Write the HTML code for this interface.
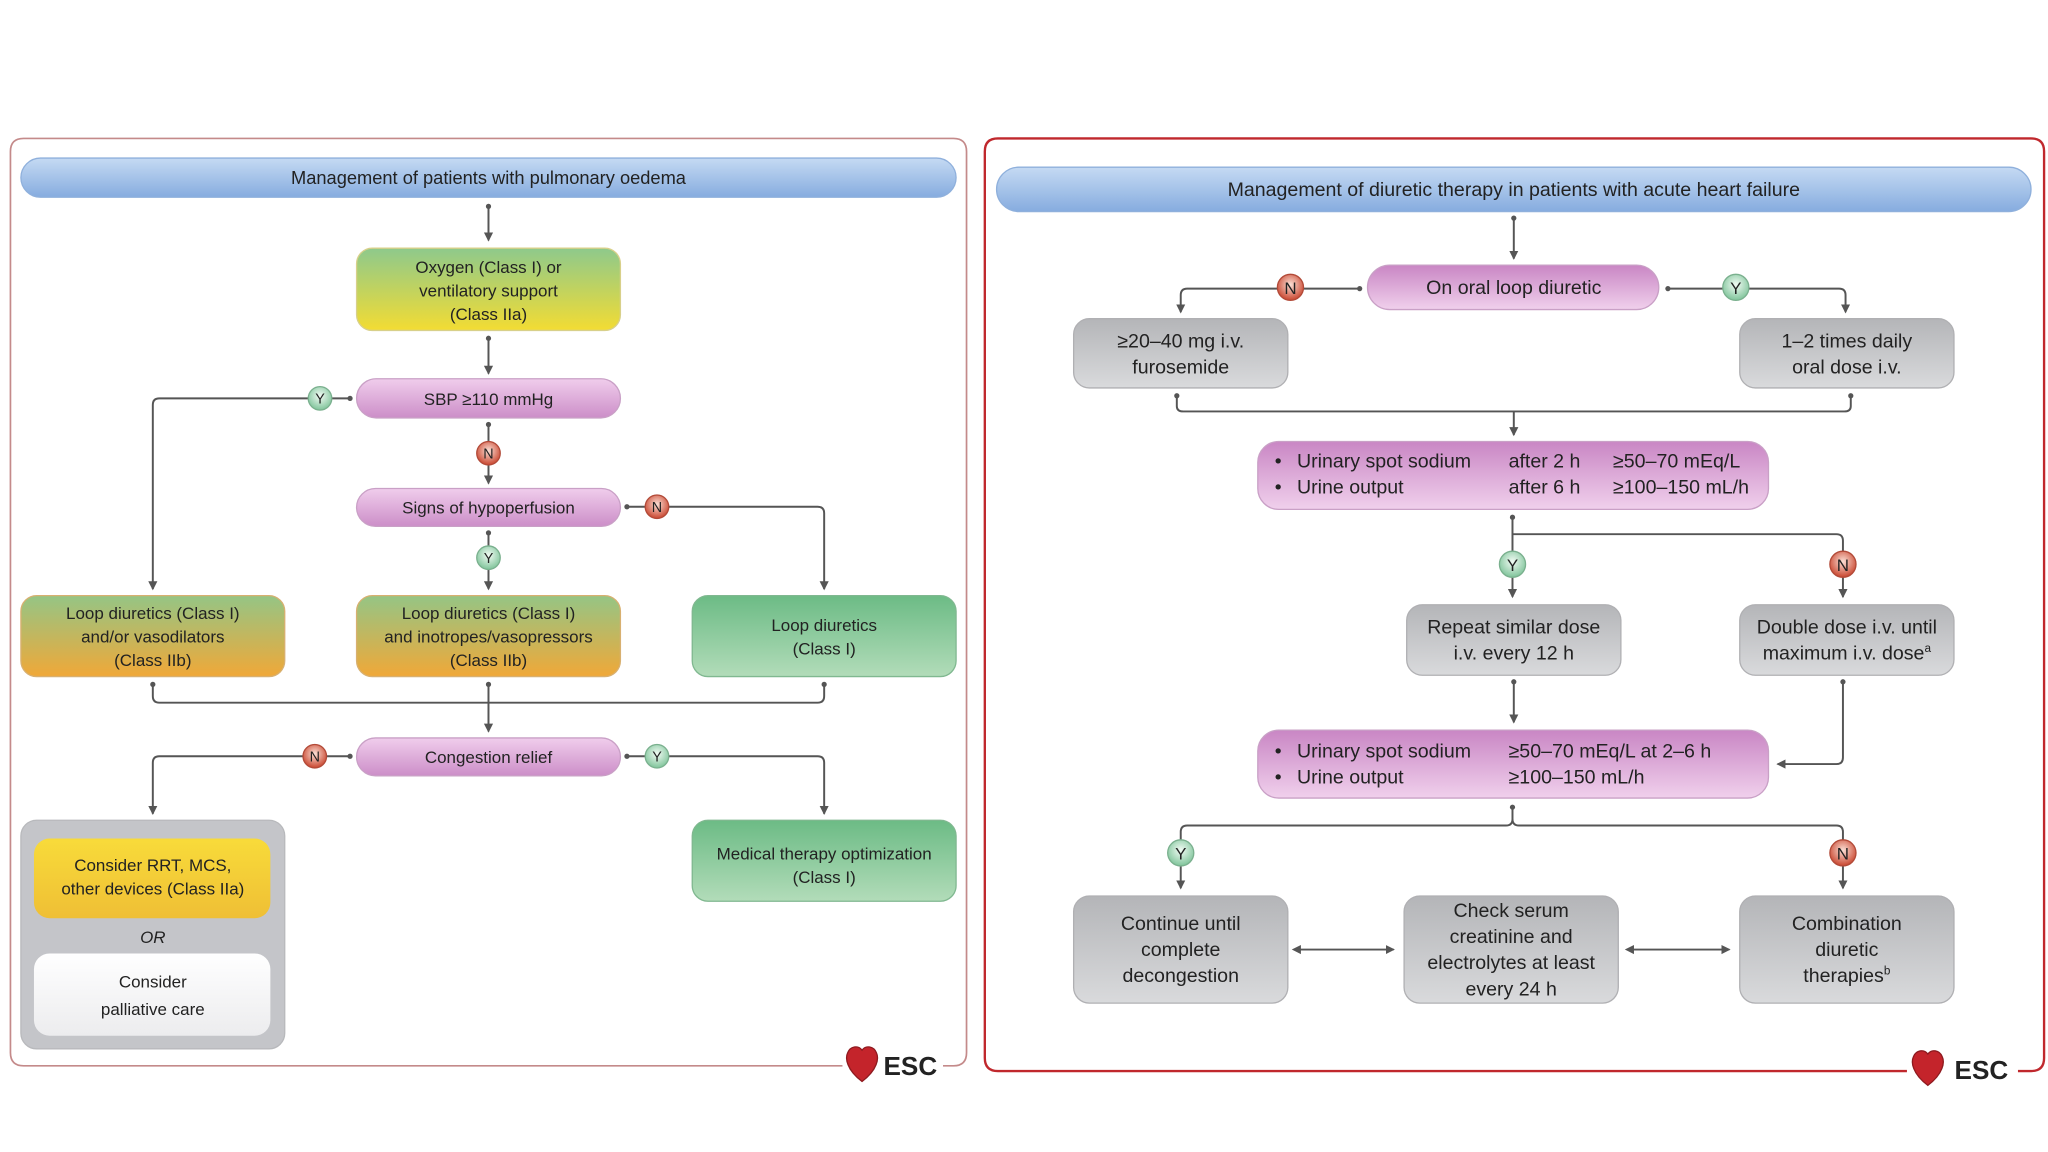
<!DOCTYPE html>
<html><head><meta charset="utf-8"><style>
html,body{margin:0;padding:0;background:#fff;width:2048px;height:1152px;overflow:hidden}
text{font-family:"Liberation Sans",sans-serif;fill:#222;text-anchor:middle}
</style></head><body>
<svg width="2048" height="1152" viewBox="0 0 1568 882" xmlns="http://www.w3.org/2000/svg">
<defs>
<linearGradient id="blue" x1="0" y1="0" x2="0" y2="1"><stop offset="0" stop-color="#c5daf3"/><stop offset="1" stop-color="#86acdf"/></linearGradient>
<linearGradient id="gy" x1="0" y1="0" x2="0" y2="1"><stop offset="0" stop-color="#8ec98c"/><stop offset="1" stop-color="#f3dc33"/></linearGradient>
<linearGradient id="go" x1="0" y1="0" x2="0" y2="1"><stop offset="0" stop-color="#95c585"/><stop offset="1" stop-color="#f0a838"/></linearGradient>
<linearGradient id="gr" x1="0" y1="0" x2="0" y2="1"><stop offset="0" stop-color="#6cbb85"/><stop offset="1" stop-color="#b2dcb9"/></linearGradient>
<linearGradient id="pu" x1="0" y1="0" x2="0" y2="1"><stop offset="0" stop-color="#c986c4"/><stop offset="1" stop-color="#f0d0ec"/></linearGradient>
<linearGradient id="pu2" x1="0" y1="0" x2="0" y2="1"><stop offset="0" stop-color="#f0cdec"/><stop offset="1" stop-color="#cc8ec8"/></linearGradient>
<linearGradient id="gray" x1="0" y1="0" x2="0" y2="1"><stop offset="0" stop-color="#b4b5b8"/><stop offset="1" stop-color="#d9dadc"/></linearGradient>
<linearGradient id="yel" x1="0" y1="0" x2="0" y2="1"><stop offset="0" stop-color="#f8db3a"/><stop offset="1" stop-color="#efbf35"/></linearGradient>
<linearGradient id="wh" x1="0" y1="0" x2="0" y2="1"><stop offset="0" stop-color="#ffffff"/><stop offset="1" stop-color="#ececee"/></linearGradient>
<radialGradient id="cy" cx="0.5" cy="0.4" r="0.6"><stop offset="0" stop-color="#f2fbf4"/><stop offset="1" stop-color="#7fc49a"/></radialGradient>
<radialGradient id="cn" cx="0.5" cy="0.4" r="0.6"><stop offset="0" stop-color="#fbe0d6"/><stop offset="1" stop-color="#c9452e"/></radialGradient>
<marker id="ah" markerWidth="8" markerHeight="8" refX="6" refY="4" orient="auto" markerUnits="userSpaceOnUse"><path d="M0,0.5 L7,4 L0,7.5 Z" fill="#555"/></marker>
<marker id="as" markerWidth="8" markerHeight="8" refX="1" refY="4" orient="auto-start-reverse" markerUnits="userSpaceOnUse"><path d="M0,0.5 L7,4 L0,7.5 Z" fill="#555"/></marker>
</defs>

<!-- panels -->
<path d="M645,816 H18 Q8,816 8,806 V116 Q8,106 18,106 H730 Q740,106 740,116 V806 Q740,816 730,816 H722" fill="none" stroke="#c48a8a" stroke-width="1.3"/>
<path d="M1460,820 H764 Q754,820 754,810 V116 Q754,106 764,106 H1555 Q1565,106 1565,116 V810 Q1565,820 1555,820 H1545" fill="none" stroke="#c0282d" stroke-width="1.8"/>

<g stroke="#555" stroke-width="1.5" fill="none">
<!-- left connectors -->
<path d="M374,158 V184" marker-end="url(#ah)"/>
<path d="M374,259 V286" marker-end="url(#ah)"/>
<path d="M268,305 H122 Q117,305 117,310 V451" marker-end="url(#ah)"/>
<path d="M374,325 V370" marker-end="url(#ah)"/>
<path d="M480,388 H626 Q631,388 631,393 V451" marker-end="url(#ah)"/>
<path d="M374,408 V451" marker-end="url(#ah)"/>
<path d="M117,524 V533 Q117,538 122,538 H626 Q631,538 631,533 V524"/>
<path d="M374,524 V560" marker-end="url(#ah)"/>
<path d="M268,579 H122 Q117,579 117,584 V623" marker-end="url(#ah)"/>
<path d="M480,579 H626 Q631,579 631,584 V623" marker-end="url(#ah)"/>
<!-- right connectors -->
<path d="M1159,167 V198" marker-end="url(#ah)"/>
<path d="M1041,221 H909 Q904,221 904,226 V239" marker-end="url(#ah)"/>
<path d="M1277,221 H1408 Q1413,221 1413,226 V239" marker-end="url(#ah)"/>
<path d="M901,303 V311 Q901,315 906,315 H1412 Q1417,315 1417,311 V303"/>
<path d="M1159,315 V333" marker-end="url(#ah)"/>
<path d="M1158,396 V457" marker-end="url(#ah)"/>
<path d="M1158,409 H1406 Q1411,409 1411,414 V457" marker-end="url(#ah)"/>
<path d="M1159,522 V553" marker-end="url(#ah)"/>
<path d="M1411,522 V580 Q1411,585 1406,585 H1361" marker-end="url(#ah)"/>
<path d="M1158,618 V627 Q1158,632 1153,632 H909 Q904,632 904,637 V680" marker-end="url(#ah)"/>
<path d="M1158,627 Q1158,632 1163,632 H1406 Q1411,632 1411,637 V680" marker-end="url(#ah)"/>
<path d="M995,727 H1067" marker-start="url(#as)" marker-end="url(#ah)"/>
<path d="M1250,727 H1324" marker-start="url(#as)" marker-end="url(#ah)"/>
</g>
<g fill="#555">
<circle cx="374" cy="158" r="2"/><circle cx="374" cy="259" r="2"/><circle cx="268" cy="305" r="2"/><circle cx="374" cy="325" r="2"/><circle cx="480" cy="388" r="2"/><circle cx="374" cy="408" r="2"/><circle cx="117" cy="524" r="2"/><circle cx="374" cy="524" r="2"/><circle cx="631" cy="524" r="2"/><circle cx="268" cy="579" r="2"/><circle cx="480" cy="579" r="2"/>
<circle cx="1159" cy="167" r="2"/><circle cx="1041" cy="221" r="2"/><circle cx="1277" cy="221" r="2"/><circle cx="901" cy="303" r="2"/><circle cx="1417" cy="303" r="2"/><circle cx="1158" cy="396" r="2"/><circle cx="1159" cy="522" r="2"/><circle cx="1411" cy="522" r="2"/><circle cx="1158" cy="618" r="2"/>
</g>

<!-- left boxes -->
<rect x="16" y="121" width="716" height="30" rx="15" fill="url(#blue)" stroke="#8fb0dc"/>
<text x="374" y="141" font-size="14">Management of patients with pulmonary oedema</text>
<rect x="273" y="190" width="202" height="63" rx="12" fill="url(#gy)" stroke="#d8d08a"/>
<text x="374" y="209" font-size="13">Oxygen (Class I) or</text>
<text x="374" y="227" font-size="13">ventilatory support</text>
<text x="374" y="245" font-size="13">(Class IIa)</text>
<rect x="273" y="290" width="202" height="30" rx="15" fill="url(#pu2)" stroke="#c9a0c6"/>
<text x="374" y="310" font-size="13">SBP ≥110 mmHg</text>
<rect x="273" y="374" width="202" height="29" rx="14.5" fill="url(#pu2)" stroke="#c9a0c6"/>
<text x="374" y="393" font-size="13">Signs of hypoperfusion</text>
<rect x="16" y="456" width="202" height="62" rx="12" fill="url(#go)" stroke="#d8b070"/>
<text x="117" y="474" font-size="13">Loop diuretics (Class I)</text>
<text x="117" y="492" font-size="13">and/or vasodilators</text>
<text x="117" y="510" font-size="13">(Class IIb)</text>
<rect x="273" y="456" width="202" height="62" rx="12" fill="url(#go)" stroke="#d8b070"/>
<text x="374" y="474" font-size="13">Loop diuretics (Class I)</text>
<text x="374" y="492" font-size="13">and inotropes/vasopressors</text>
<text x="374" y="510" font-size="13">(Class IIb)</text>
<rect x="530" y="456" width="202" height="62" rx="12" fill="url(#gr)" stroke="#80b890"/>
<text x="631" y="483" font-size="13">Loop diuretics</text>
<text x="631" y="501" font-size="13">(Class I)</text>
<rect x="273" y="565" width="202" height="29" rx="14.5" fill="url(#pu2)" stroke="#c9a0c6"/>
<text x="374" y="584" font-size="13">Congestion relief</text>
<rect x="16" y="628" width="202" height="175" rx="12" fill="#c4c5c9" stroke="#b8b9bc"/>
<rect x="26" y="642" width="181" height="61" rx="12" fill="url(#yel)"/>
<text x="117" y="667" font-size="13">Consider RRT, MCS,</text>
<text x="117" y="685" font-size="13">other devices (Class IIa)</text>
<text x="117" y="722" font-size="13" font-style="italic">OR</text>
<rect x="26" y="730" width="181" height="63" rx="12" fill="url(#wh)"/>
<text x="117" y="756" font-size="13">Consider</text>
<text x="117" y="777" font-size="13">palliative care</text>
<rect x="530" y="628" width="202" height="62" rx="12" fill="url(#gr)" stroke="#80b890"/>
<text x="631" y="658" font-size="13">Medical therapy optimization</text>
<text x="631" y="676" font-size="13">(Class I)</text>

<!-- right boxes -->
<rect x="763" y="128" width="792" height="34" rx="17" fill="url(#blue)" stroke="#8fb0dc"/>
<text x="1159" y="150" font-size="15">Management of diuretic therapy in patients with acute heart failure</text>
<rect x="1047" y="203" width="223" height="34" rx="17" fill="url(#pu)" stroke="#c9a0c6"/>
<text x="1159" y="225" font-size="15">On oral loop diuretic</text>
<rect x="822" y="244" width="164" height="53" rx="12" fill="url(#gray)" stroke="#b0b0b3"/>
<text x="904" y="266" font-size="15">≥20–40 mg i.v.</text>
<text x="904" y="286" font-size="15">furosemide</text>
<rect x="1332" y="244" width="164" height="53" rx="12" fill="url(#gray)" stroke="#b0b0b3"/>
<text x="1414" y="266" font-size="15">1–2 times daily</text>
<text x="1414" y="286" font-size="15">oral dose i.v.</text>
<rect x="963" y="338" width="391" height="52" rx="16" fill="url(#pu)" stroke="#c9a0c6"/>
<g font-size="15" style="text-anchor:start">
<text x="976" y="358" style="text-anchor:start">•</text><text x="993" y="358" style="text-anchor:start">Urinary spot sodium</text><text x="1155" y="358" style="text-anchor:start">after 2 h</text><text x="1235" y="358" style="text-anchor:start">≥50–70 mEq/L</text>
<text x="976" y="378" style="text-anchor:start">•</text><text x="993" y="378" style="text-anchor:start">Urine output</text><text x="1155" y="378" style="text-anchor:start">after 6 h</text><text x="1235" y="378" style="text-anchor:start">≥100–150 mL/h</text>
</g>
<rect x="1077" y="463" width="164" height="54" rx="12" fill="url(#gray)" stroke="#b0b0b3"/>
<text x="1159" y="485" font-size="15">Repeat similar dose</text>
<text x="1159" y="505" font-size="15">i.v. every 12 h</text>
<rect x="1332" y="463" width="164" height="54" rx="12" fill="url(#gray)" stroke="#b0b0b3"/>
<text x="1414" y="485" font-size="15">Double dose i.v. until</text>
<text x="1414" y="505" font-size="15">maximum i.v. dose<tspan font-size="9" dy="-6">a</tspan></text>
<rect x="963" y="559" width="391" height="52" rx="16" fill="url(#pu)" stroke="#c9a0c6"/>
<text x="976" y="580" font-size="15" style="text-anchor:start">•</text><text x="993" y="580" font-size="15" style="text-anchor:start">Urinary spot sodium</text><text x="1155" y="580" font-size="15" style="text-anchor:start">≥50–70 mEq/L at 2–6 h</text>
<text x="976" y="600" font-size="15" style="text-anchor:start">•</text><text x="993" y="600" font-size="15" style="text-anchor:start">Urine output</text><text x="1155" y="600" font-size="15" style="text-anchor:start">≥100–150 mL/h</text>
<rect x="822" y="686" width="164" height="82" rx="12" fill="url(#gray)" stroke="#b0b0b3"/>
<text x="904" y="712" font-size="15">Continue until</text>
<text x="904" y="732" font-size="15">complete</text>
<text x="904" y="752" font-size="15">decongestion</text>
<rect x="1075" y="686" width="164" height="82" rx="12" fill="url(#gray)" stroke="#b0b0b3"/>
<text x="1157" y="702" font-size="15">Check serum</text>
<text x="1157" y="722" font-size="15">creatinine and</text>
<text x="1157" y="742" font-size="15">electrolytes at least</text>
<text x="1157" y="762" font-size="15">every 24 h</text>
<rect x="1332" y="686" width="164" height="82" rx="12" fill="url(#gray)" stroke="#b0b0b3"/>
<text x="1414" y="712" font-size="15">Combination</text>
<text x="1414" y="732" font-size="15">diuretic</text>
<text x="1414" y="752" font-size="15">therapies<tspan font-size="9" dy="-6">b</tspan></text>

<!-- Y/N circles -->
<g stroke-width="1" font-size="11">
<circle cx="245" cy="305" r="9" fill="url(#cy)" stroke="#7ab08e"/><text x="245" y="309" font-size="11">Y</text>
<circle cx="374" cy="347" r="9" fill="url(#cn)" stroke="#b24a38"/><text x="374" y="351" font-size="11">N</text>
<circle cx="503" cy="388" r="9" fill="url(#cn)" stroke="#b24a38"/><text x="503" y="392" font-size="11">N</text>
<circle cx="374" cy="427" r="9" fill="url(#cy)" stroke="#7ab08e"/><text x="374" y="431" font-size="11">Y</text>
<circle cx="241" cy="579" r="9" fill="url(#cn)" stroke="#b24a38"/><text x="241" y="583" font-size="11">N</text>
<circle cx="503" cy="579" r="9" fill="url(#cy)" stroke="#7ab08e"/><text x="503" y="583" font-size="11">Y</text>
<circle cx="988" cy="220" r="10" fill="url(#cn)" stroke="#b24a38"/><text x="988" y="225" font-size="13">N</text>
<circle cx="1329" cy="220" r="10" fill="url(#cy)" stroke="#7ab08e"/><text x="1329" y="225" font-size="13">Y</text>
<circle cx="1158" cy="432" r="10" fill="url(#cy)" stroke="#7ab08e"/><text x="1158" y="437" font-size="13">Y</text>
<circle cx="1411" cy="432" r="10" fill="url(#cn)" stroke="#b24a38"/><text x="1411" y="437" font-size="13">N</text>
<circle cx="904" cy="653" r="10" fill="url(#cy)" stroke="#7ab08e"/><text x="904" y="658" font-size="13">Y</text>
<circle cx="1411" cy="653" r="10" fill="url(#cn)" stroke="#b24a38"/><text x="1411" y="658" font-size="13">N</text>
</g>

<!-- ESC logos -->
<g>
<path d="M660,828 C648,819 647,810 649,806 C651,801 657,800 660,804 C663,800 669,801 671,806 C673,810 672,819 660,828 Z" fill="#c4242b" stroke="#8e1a1f"/>
<text x="697" y="823" font-size="20" font-weight="bold" fill="#333">ESC</text>
<path d="M1476,831 C1464,822 1463,813 1465,809 C1467,804 1473,803 1476,807 C1479,803 1485,804 1487,809 C1489,813 1488,822 1476,831 Z" fill="#c4242b" stroke="#8e1a1f"/>
<text x="1517" y="826" font-size="20" font-weight="bold" fill="#333">ESC</text>
</g>
</svg>
</body></html>
